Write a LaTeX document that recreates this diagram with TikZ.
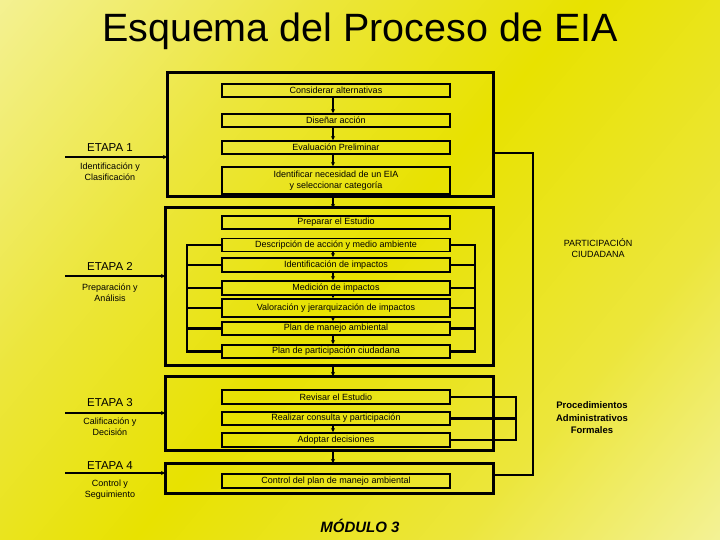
\documentclass[tikz,border=0pt]{standalone}
\usepackage{fontspec}
\setmainfont{Liberation Sans}
\usetikzlibrary{arrows.meta}
\definecolor{pale}{RGB}{246,244,170}
\definecolor{mid}{RGB}{236,230,60}
\definecolor{bright}{RGB}{232,226,0}
\definecolor{pale2}{RGB}{246,246,180}
\pgfdeclarehorizontalshading{bgsh}{100bp}{color(0bp)=(pale); color(25bp)=(pale); color(40bp)=(mid); color(50bp)=(bright); color(62bp)=(mid); color(75bp)=(pale2); color(100bp)=(pale2)}
\begin{document}
\begin{tikzpicture}[x=1pt,y=-1pt,
  stage/.style={draw,line width=3pt},
  ibox/.style={draw,line width=1.8pt,minimum width=228pt,inner sep=0pt,font=\fontsize{9}{10.5}\selectfont,align=center},
  conn/.style={line width=2.2pt},
  arr/.style={line width=1.5pt,-{Stealth[length=4pt,width=4pt]}},
  etapa/.style={font=\fontsize{11.5}{13}\selectfont},
  sub/.style={font=\fontsize{9}{11}\selectfont,align=center}]
\useasboundingbox (0,0) rectangle (720,540);
\shade[shading=bgsh,shading angle=-40] (-200,-200) rectangle (920,740);
\node at (360,31) {\fontsize{39.5}{42}\selectfont Esquema del Proceso de EIA};
% stage boxes
\draw[stage] (167,73) rectangle (493,197);
\draw[stage] (165,208) rectangle (493,365);
\draw[stage] (165,376) rectangle (493,450);
\draw[stage] (165,463) rectangle (493,493);
\coordinate (s1t) at (333,197); \coordinate (s2t) at (333,208);
\coordinate (s2b) at (333,365); \coordinate (s3t) at (333,376);
\coordinate (s3b) at (333,450); \coordinate (s4t) at (333,463);
% inner boxes
\node[ibox,minimum height=13pt] (c1) at (336,90.5) {Considerar alternativas};
\node[ibox,minimum height=13pt] (c2) at (336,120.5) {Diseñar acción};
\node[ibox,minimum height=13pt] (c3) at (336,147.5) {Evaluación Preliminar};
\node[ibox,minimum height=27pt] (c4) at (336,180.5) {Identificar necesidad de un EIA\\y seleccionar categoría};
\node[ibox,minimum height=13pt] (p0) at (336,222.5) {Preparar el Estudio};
\node[ibox,minimum height=13pt] (p1) at (336,245) {Descripción de acción y medio ambiente};
\node[ibox,minimum height=14pt] (p2) at (336,265) {Identificación de impactos};
\node[ibox,minimum height=14pt] (p3) at (336,288) {Medición de impactos};
\node[ibox,minimum height=18pt] (p4) at (336,308) {Valoración y jerarquización de impactos};
\node[ibox,minimum height=13pt] (p5) at (336,328.5) {Plan de manejo ambiental};
\node[ibox,minimum height=13pt] (p6) at (336,351.5) {Plan de participación ciudadana};
\node[ibox,minimum height=14pt] (r1) at (336,397) {Revisar el Estudio};
\node[ibox,minimum height=13pt] (r2) at (336,418.5) {Realizar consulta y participación};
\node[ibox,minimum height=14pt] (r3) at (336,440) {Adoptar decisiones};
\node[ibox,minimum height=14pt] (k1) at (336,481) {Control del plan de manejo ambiental};
% vertical arrows
\foreach \a/\b in {c1/c2,c2/c3,c3/c4,p1/p2,p2/p3,p3/p4,p4/p5,p5/p6,r2/r3}
  \draw[arr] ([xshift=-3pt]\a.south) -- ([xshift=-3pt]\b.north);
\draw[arr] (s1t) -- (s2t);
\draw[arr] (s2b) -- (s3t);
\draw[arr] (s3b) -- (s4t);
% box2 brackets
\coordinate (lb) at (187,245); \coordinate (rb) at (475,245); \coordinate (r3b) at (516,397);
\draw[conn] (p1.west) -- (lb) -- (lb |- p6.west) -- (p6.west);
\foreach \n in {p2,p3,p4,p5} \draw[conn] (\n.west) -- (\n.west -| lb);
\draw[conn] (p1.east) -- (rb) -- (rb |- p6.east) -- (p6.east);
\foreach \n in {p2,p3,p4,p5} \draw[conn] (\n.east) -- (\n.east -| rb);
% box3 bracket
\draw[conn] (r1.east) -- (r3b) -- (r3b |- r3.east) -- (r3.east);
\draw[conn] (r2.east) -- (r2.east -| r3b);
% big bracket
\coordinate (b1) at (493,153); \coordinate (b4) at (493,475);
\draw[conn,line width=2.4pt] (b1) -- (533,153) -- (533,475) -- (b4);
% left labels
\coordinate (e1) at (65,157); \coordinate (e1e) at (167,157);
\coordinate (e2) at (65,276); \coordinate (e2e) at (165,276);
\coordinate (e3) at (65,413); \coordinate (e3e) at (165,413);
\coordinate (e4) at (65,473); \coordinate (e4e) at (165,473);
\draw[arr] (e1) -- (e1e);
\draw[arr] (e2) -- (e2e);
\draw[arr] (e3) -- (e3e);
\draw[arr] (e4) -- (e4e);
\node[etapa] (t1) at (110,148) {ETAPA 1};
\node[sub] (u1) at (110,172) {Identificación y\\Clasificación};
\node[etapa] (t2) at (110,266) {ETAPA 2};
\node[sub] (u2) at (110,293) {Preparación y\\Análisis};
\node[etapa] (t3) at (110,403) {ETAPA 3};
\node[sub] (u3) at (110,427) {Calificación y\\Decisión};
\node[etapa] (t4) at (110,466) {ETAPA 4};
\node[sub] (u4) at (110,490) {Control y\\Seguimiento};
\node[sub] (pc) at (598,248) {PARTICIPACIÓN\\CIUDADANA};
\node[sub,font=\bfseries\fontsize{9.5}{12.5}\selectfont] (pa) at (592,418) {Procedimientos\\Administrativos\\Formales};
\node (m3) at (360,526) {\bfseries\itshape\fontsize{15}{17}\selectfont MÓDULO 3};
\end{tikzpicture}
\end{document}
